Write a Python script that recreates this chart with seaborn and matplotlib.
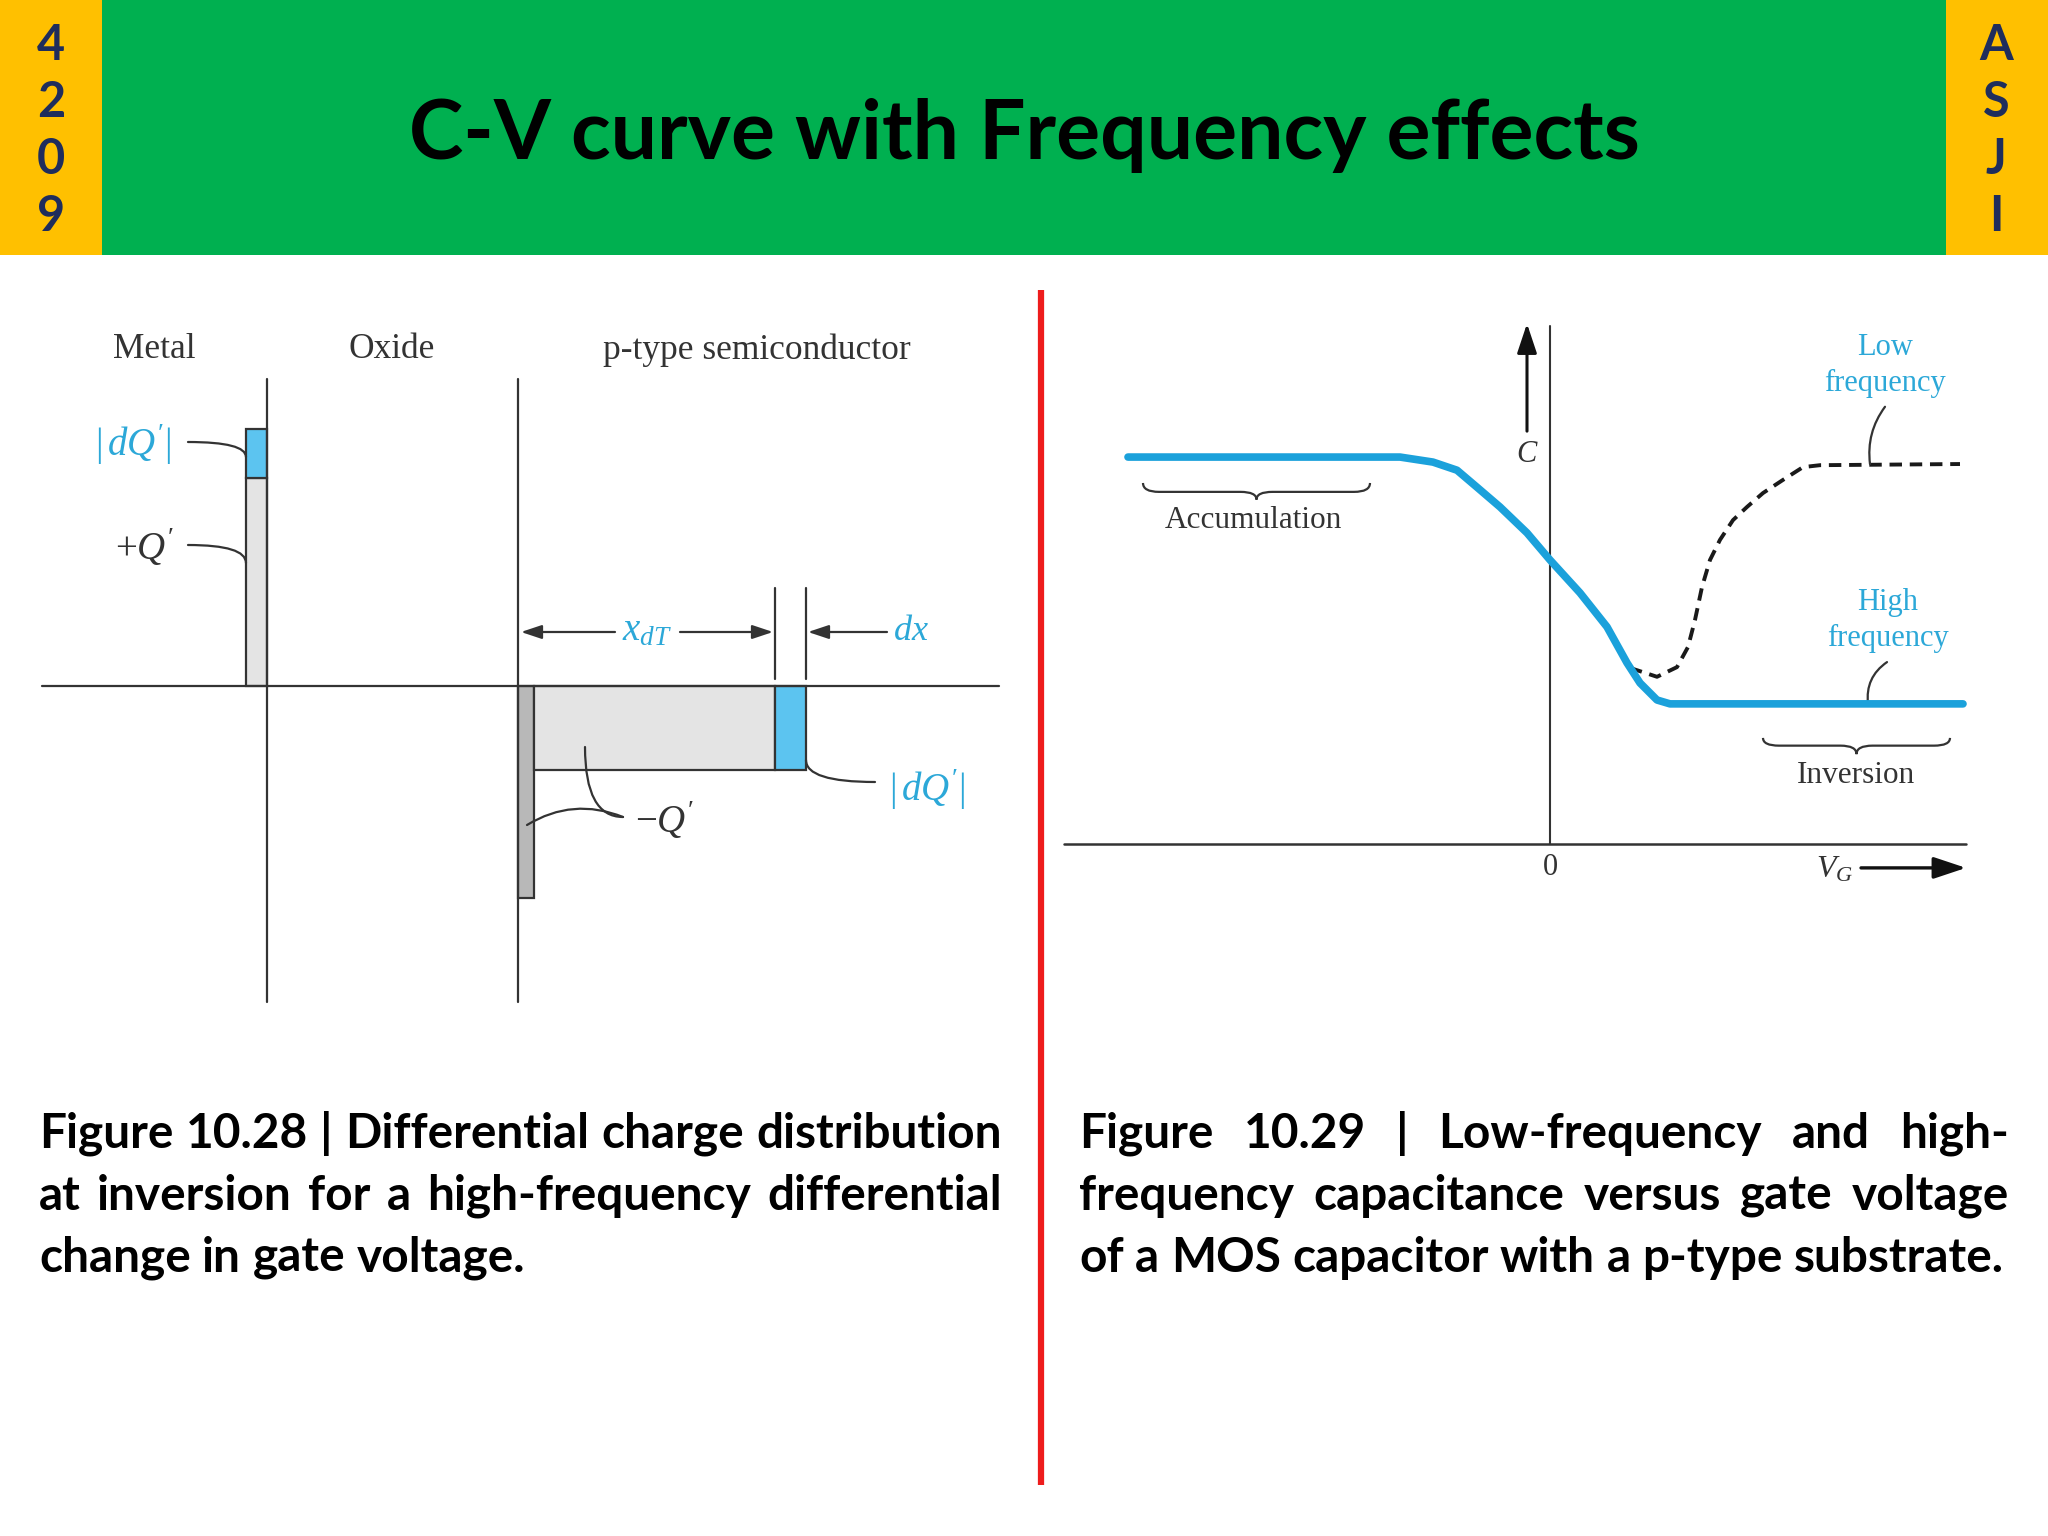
import numpy as np
import matplotlib
matplotlib.use("Agg")
import matplotlib.pyplot as plt
from matplotlib.patches import Rectangle, PathPatch
from matplotlib.path import Path
import seaborn as sns

sns.set_theme(style="white")
plt.rcParams['font.family'] = ['Lato', 'DejaVu Sans']
plt.rcParams['mathtext.fontset'] = 'custom'
plt.rcParams['mathtext.rm'] = 'Liberation Serif'
plt.rcParams['mathtext.it'] = 'Liberation Serif:italic'
plt.rcParams['mathtext.bf'] = 'Liberation Serif:bold'

# ---------------- data ----------------
TITLE = "C-V curve with Frequency effects"
LEFT_TAG = ["4", "2", "0", "9"]
RIGHT_TAG = ["A", "S", "J", "I"]

CAPTION_LEFT = ["Figure 10.28 | Differential charge distribution",
                "at inversion for a high-frequency differential",
                "change in gate voltage."]
CAPTION_RIGHT = ["Figure 10.29 | Low-frequency and high-",
                 "frequency capacitance versus gate voltage",
                 "of a MOS capacitor with a p-type substrate."]

# Fig 10.28 : charge distribution (x = position, 0 at oxide/semiconductor interface)
region_labels = ["Metal", "Oxide", "p-type semiconductor"]
region_label_x = [-3.64, -1.26, 2.39]
interface_x = [-2.51, 0.0]              # metal/oxide, oxide/semiconductor
charge_left = [-2.72, -2.72, 0.0, 0.16, 2.57]
charge_width = [0.21, 0.21, 0.16, 2.41, 0.31]
charge_bottom = [0.0, 2.08, 0.0, 0.0, 0.0]
charge_height = [2.08, 0.49, -2.12, -0.84, -0.84]
charge_kind = ["Q", "dQ", "inv", "Q", "dQ"]
x_dT = 2.57
dx = 0.31

# Fig 10.29 : C-V curves (V_G, C/Cox)
V_hf = [-4.22, -1.50, -1.17, -0.93, -0.73, -0.50, -0.23, 0.00, 0.30, 0.57,
        0.77, 0.90, 1.07, 1.20, 4.13]
C_hf = [1.000, 1.000, 0.987, 0.966, 0.922, 0.871, 0.804, 0.734, 0.649, 0.561,
        0.468, 0.416, 0.372, 0.362, 0.362]
V_lf = [0.80, 1.07, 1.27, 1.38, 1.45, 1.52, 1.60, 1.70, 1.83, 1.97, 2.13,
        2.33, 2.53, 2.70, 4.10]
C_lf = [0.455, 0.432, 0.457, 0.509, 0.579, 0.664, 0.734, 0.786, 0.837, 0.871,
        0.907, 0.941, 0.974, 0.979, 0.982]
accum_span = [-4.07, -1.80]
inv_span = [2.13, 4.00]

# ---------------- colours ----------------
GREEN = "#00B050"
YELLOW = "#FFC000"
NAVY = "#1F2D5C"
CURVE_BLUE = "#1BA1DB"
LABEL_CYAN = "#2CA8D8"
RECT_BLUE = "#5CC4F0"
LIGHT_GRAY = "#E4E4E4"
DARK_GRAY = "#B8B8B8"
INK = "#333333"
SERIF = "Liberation Serif"

W, H = 2048, 1536
fig = plt.figure(figsize=(W / 100, H / 100), dpi=100)
renderer = fig.canvas.get_renderer()

# background / layout axes in pixel coordinates
bg = fig.add_axes([0, 0, 1, 1], zorder=0)
bg.set_xlim(0, W)
bg.set_ylim(H, 0)
bg.set_axis_off()

bg.add_patch(Rectangle((0, 0), 102, 255, color=YELLOW, lw=0))
bg.add_patch(Rectangle((1946, 0), 102, 255, color=YELLOW, lw=0))
bg.add_patch(Rectangle((102, 0), 1844, 255, color=GREEN, lw=0))

for i, (a, b) in enumerate(zip(LEFT_TAG, RIGHT_TAG)):
    yb = 60 + i * 57
    bg.text(51, yb, a, ha="center", va="baseline", fontsize=35,
            fontweight="bold", color=NAVY)
    bg.text(1996, yb, b, ha="center", va="baseline", fontsize=35,
            fontweight="bold", color=NAVY)


def fit_text(ax, x, y, s, width, **kw):
    t = ax.text(x, y, s, fontsize=20, **kw)
    w = t.get_window_extent(renderer).width
    t.set_fontsize(20 * width / w)
    return t


fit_text(bg, 1024, 159, TITLE, 1233, ha="center", va="baseline",
         fontweight="bold", color="black")

# red separator
bg.plot([1041, 1041], [290, 1485], color="#EE1C1C", lw=4.5, solid_capstyle="butt")

# captions (justified)
probe = bg.text(0, 0, CAPTION_LEFT[0], fontsize=20, fontweight="bold")
cap_size = 20 * 963 / probe.get_window_extent(renderer).width
probe.remove()


def draw_justified(lines, x0, x1, baselines, size):
    space = size * 100 / 72 * 0.24
    for i, (line, yb) in enumerate(zip(lines, baselines)):
        words = line.split(" ")
        texts = [bg.text(0, yb, w, fontsize=size, fontweight="bold",
                         va="baseline", ha="left", color="black") for w in words]
        widths = [t.get_window_extent(renderer).width for t in texts]
        if i == len(lines) - 1:
            gap = space
        else:
            gap = (x1 - x0 - sum(widths)) / (len(words) - 1)
        x = x0
        for t, w in zip(texts, widths):
            t.set_x(x)
            x += w + gap


draw_justified(CAPTION_LEFT, 39, 1002, [1148, 1210, 1272], cap_size)
draw_justified(CAPTION_RIGHT, 1079, 2009, [1148, 1210, 1272], cap_size)


def brace(ax, x0, x1, y_end, y_line, y_tip, r, **kw):
    xm = (x0 + x1) / 2
    verts = [(x0, y_end), (x0, y_line), (x0 + r, y_line),
             (xm - r, y_line), (xm, y_line), (xm, y_tip),
             (xm, y_line), (xm + r, y_line),
             (x1 - r, y_line), (x1, y_line), (x1, y_end)]
    codes = [Path.MOVETO, Path.CURVE3, Path.CURVE3,
             Path.LINETO, Path.CURVE3, Path.CURVE3,
             Path.CURVE3, Path.CURVE3,
             Path.LINETO, Path.CURVE3, Path.CURVE3]
    ax.add_patch(PathPatch(Path(verts, codes), fill=False, **kw))


def leader(ax, start, end, style, color=INK, lw=1.6):
    ax.annotate("", xy=end, xytext=start,
                arrowprops=dict(arrowstyle="-", connectionstyle=style,
                                color=color, lw=lw, shrinkA=0, shrinkB=0))


def arrow(ax, start, end, ms=14, lw=1.6, color=INK, hl=0.9, hw=0.3):
    ax.annotate("", xy=end, xytext=start,
                arrowprops=dict(arrowstyle=f"-|>,head_length={hl},head_width={hw}",
                                color=color, lw=lw, shrinkA=0, shrinkB=0,
                                mutation_scale=ms))


# ---------------- Fig 10.28 ----------------
axL = fig.add_axes([20 / W, (H - 1020) / H, 1000 / W, 720 / H], zorder=2)
axL.set_xlim(-4.98, 5.02)
axL.set_ylim(-3.34, 3.86)
axL.set_axis_off()
axL.patch.set_alpha(0)

kind_color = {"Q": LIGHT_GRAY, "dQ": RECT_BLUE, "inv": DARK_GRAY}
axL.bar(charge_left, charge_height, width=charge_width, bottom=charge_bottom,
        align="edge", color=[kind_color[k] for k in charge_kind],
        edgecolor=INK, linewidth=1.6, zorder=3)

axL.plot([-4.76, 4.81], [0, 0], color=INK, lw=1.6, zorder=4)
for xi in interface_x:
    axL.plot([xi, xi], [-3.16, 3.07], color=INK, lw=1.6, zorder=4)

for lab, xl in zip(region_labels, region_label_x):
    axL.text(xl, 3.36, lab, ha="center", va="center", fontsize=25.5,
             family=SERIF, color=INK)

mfs = 28
axL.text(-3.85, 2.41, r"$|\,dQ'|$", ha="center", va="center", fontsize=mfs, color=LABEL_CYAN)
leader(axL, (-3.30, 2.44), (-2.72, 2.29), "angle3,angleA=0,angleB=90")
axL.text(-3.73, 1.39, r"$+Q'$", ha="center", va="center", fontsize=mfs, color=INK)
leader(axL, (-3.30, 1.41), (-2.72, 1.23), "angle3,angleA=0,angleB=90")

# dimension lines
x_end = x_dT + dx
for xt in [x_dT, x_end]:
    axL.plot([xt, xt], [0.07, 0.98], color=INK, lw=1.6)
arrow(axL, (0.97, 0.54), (0.03, 0.54))
arrow(axL, (1.62, 0.54), (x_dT - 0.02, 0.54))
axL.text(1.29, 0.56, r"$x_{dT}$", ha="center", va="center", fontsize=mfs, color=LABEL_CYAN)
arrow(axL, (3.69, 0.54), (x_end + 0.02, 0.54))
axL.text(3.93, 0.56, r"$dx$", ha="center", va="center", fontsize=26, color=LABEL_CYAN)

axL.text(4.09, -1.04, r"$|\,dQ'|$", ha="center", va="center", fontsize=mfs, color=LABEL_CYAN)
leader(axL, (x_end, -0.74), (3.57, -0.96), "angle3,angleA=90,angleB=0")
axL.text(1.47, -1.34, r"$-Q'$", ha="center", va="center", fontsize=mfs, color=INK)
leader(axL, (0.09, -1.39), (1.05, -1.31), "arc3,rad=-0.25")
leader(axL, (0.67, -0.61), (1.05, -1.31), "angle3,angleA=90,angleB=0")

# ---------------- Fig 10.29 ----------------
axR = fig.add_axes([1060 / W, (H - 900) / H, 940 / W, 600 / H], zorder=2)
axR.set_xlim(-4.90, 4.50)
axR.set_ylim(-0.145, 1.406)
axR.set_axis_off()
axR.patch.set_alpha(0)

axR.plot([-4.86, 4.16], [0, 0], color=INK, lw=1.8)
axR.plot([0, 0], [0, 1.34], color=INK, lw=1.5)

sns.lineplot(x=V_lf, y=C_lf, ax=axR, color="#1a1a1a", lw=2.8, sort=False,
             estimator=None, zorder=3)
axR.lines[-1].set_dashes([3.2, 2.0])
sns.lineplot(x=V_hf, y=C_hf, ax=axR, color=CURVE_BLUE, lw=5.5, sort=False,
             estimator=None, zorder=4)

arrow(axR, (-0.23, 1.067), (-0.23, 1.345), ms=20, lw=2.2, color="#111111")
axR.text(-0.23, 1.01, r"$C$", ha="center", va="center", fontsize=22, color=INK)
axR.text(0, -0.06, "0", ha="center", va="center", fontsize=22, family=SERIF, color=INK)
axR.text(2.85, -0.065, r"$V_G$", ha="center", va="center", fontsize=23, color=INK)
arrow(axR, (3.11, -0.062), (4.16, -0.062), ms=22, lw=2.4, color="#111111")

brace(axR, accum_span[0], accum_span[1], 0.933, 0.910, 0.890, 0.16,
      color=INK, lw=1.6)
axR.text(sum(accum_span) / 2 - 0.03, 0.837, "Accumulation", ha="center",
         va="center", fontsize=22.5, family=SERIF, color=INK)
brace(axR, inv_span[0], inv_span[1], 0.274, 0.254, 0.232, 0.16,
      color=INK, lw=1.6)
axR.text(3.06, 0.178, "Inversion", ha="center", va="center", fontsize=22.5,
         family=SERIF, color=INK)

axR.text(3.35, 1.284, "Low", ha="center", va="center", fontsize=22,
         family=SERIF, color=LABEL_CYAN)
axR.text(3.35, 1.189, "frequency", ha="center", va="center", fontsize=22,
         family=SERIF, color=LABEL_CYAN)
leader(axR, (3.35, 1.13), (3.20, 0.982), "arc3,rad=0.2")
axR.text(3.38, 0.623, "High", ha="center", va="center", fontsize=22,
         family=SERIF, color=LABEL_CYAN)
axR.text(3.38, 0.532, "frequency", ha="center", va="center", fontsize=22,
         family=SERIF, color=LABEL_CYAN)
leader(axR, (3.37, 0.470), (3.18, 0.362), "arc3,rad=0.3")

fig.savefig("out.png", dpi=100)
